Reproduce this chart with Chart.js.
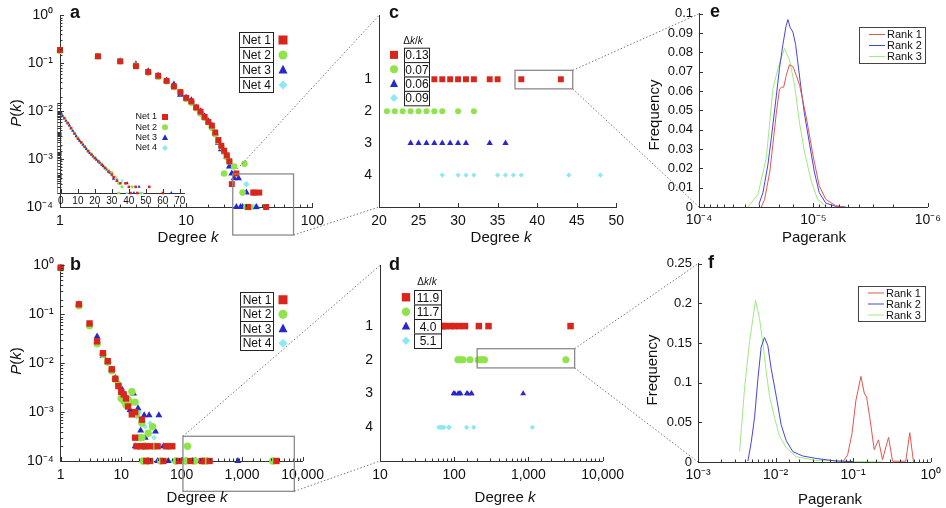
<!DOCTYPE html>
<html>
<head>
<meta charset="utf-8">
<script src="https://cdn.jsdelivr.net/npm/chart.js@4.4.1/dist/chart.umd.min.js"></script>
<style>
  html, body { margin: 0; padding: 0; background: #fff; }
  #page { position: relative; width: 946px; height: 508px; overflow: hidden; background: #fff; }
  #page canvas { position: absolute; }
</style>
</head>
<body>
<div id="page"></div>
<script>
// ---------- data ----------
const netNames = ['Net 1', 'Net 2', 'Net 3', 'Net 4'];
const rankNames = ['Rank 1', 'Rank 2', 'Rank 3'];

// panel a: P(k) for k = 1..22, then the sparse tail
const aDegree = [1,2,3,4,5,6,7,8,9,10,11,12,13,14,15,16,17,18,19,20,21,22];
const aNet1 = [0.19,0.14,0.11,0.087,0.066,0.055,0.043,0.033,0.025,0.019,0.016,0.012,0.0098,0.0076,0.006,0.005,0.0036,0.0025,0.0019,0.0015,0.0012,0.0009];
const aNet2 = [0.18,0.14,0.11,0.09,0.064,0.052,0.042,0.032,0.025,0.018,0.015,0.0115,0.009,0.0072,0.0058,0.0045,0.0033,0.0024,0.0018,0.0014,0.0011,0.0009];
const aNet3 = [0.18,0.135,0.11,0.095,0.068,0.055,0.044,0.036,0.022,0.019,0.017,0.012,0.01,0.0078,0.0062,0.005,0.0034,0.0022,0.0016,0.0014,0.0011,0.0007];
const aNet4 = [0.18,0.14,0.11,0.09,0.067,0.055,0.043,0.034,0.025,0.019,0.016,0.012,0.0097,0.0075,0.006,0.0048,0.0035,0.0024,0.0018,0.0014,0.0011,0.0008];
const aTailK1 = [23,25,34,35,38,31,43];
const aTailP1 = [3e-4,5e-4,2e-4,2e-4,2e-4,1e-4,1e-4];
const aTailK2 = [20,24,29,28,30,31,32];
const aTailP2 = [5e-4,7e-4,8e-4,2e-4,1e-4,1e-4,1e-4];
const aTailK3 = [23,24,26,30,25,27,28,36];
const aTailP3 = [5e-4,4e-4,4e-4,2e-4,1e-4,1e-4,1e-4,1e-4];
const aTailK4 = [24,30,28,34,35,36];
const aTailP4 = [5e-4,3e-4,2e-4,1e-4,1e-4,1e-4];

// panel a inset (linear degree axis)
const insetEven = [0,2,4,6,8,10,12,14,16,18,20,22,24,26,28];
const insetOdd = [1,3,5,7,9,11,13,15,17,19,21,23,25,27,29];
const insetNet1 = [0.79,0.45,0.26,0.15,0.08,0.045,0.03,0.018,0.011,0.0075,0.005,0.0035,0.0024,0.0017,0.0011];
const insetNet2 = [0.75,0.48,0.28,0.14,0.085,0.05,0.028,0.019,0.012,0.008,0.0055,0.0037,0.0027,0.0016,0.0013];
const insetNet3 = [0.6,0.34,0.2,0.11,0.06,0.036,0.023,0.014,0.009,0.006,0.0042,0.003,0.002,0.0014,0.001];
const insetNet4 = [0.62,0.35,0.19,0.115,0.065,0.038,0.024,0.015,0.0095,0.0062,0.0044,0.0029,0.0021,0.0015,0.0009];
const insetTailK1 = [30,31,33,35,38,40,44,52,41,45,60];
const insetTailP1 = [8e-4,6e-4,4e-4,3e-4,3e-4,2e-4,2e-4,2e-4,1e-4,1e-4,1e-4];
const insetTailK2 = [30,32,34,36,42,34,47];
const insetTailP2 = [1e-3,6e-4,3e-4,2e-4,2e-4,1e-4,1e-4];
const insetTailK3 = [31,33,39,46,43,65];
const insetTailP3 = [5e-4,4e-4,3e-4,2e-4,1e-4,1e-4];
const insetTailK4 = [30,33,36,38,44,39,48];
const insetTailP4 = [7e-4,5e-4,4e-4,3e-4,2e-4,1e-4,1e-4];

// panel b
const bDegree = [1,2,3,4,5,6,7,8,9,10,11,12,13];
const bNet1 = [0.9,0.16,0.065,0.028,0.016,0.011,0.0075,0.0048,0.0034,0.0026,0.0023,0.0019,0.0013];
const bNet2 = [0.88,0.15,0.058,0.025,0.015,0.0105,0.007,0.0047,0.0036,0.0019,0.0017,0.0014,0.0018];
const bNet3 = [0.9,0.16,0.062,0.035,0.014,0.0105,0.0074,0.005,0.0038,0.0031,0.0024,0.002,0.0016];
const bNet4 = [0.9,0.16,0.064,0.03,0.016,0.0108,0.0077,0.0052,0.004,0.0031,0.0025,0.0021,0.0013];
const bTailK1 = [15,17,17,22,18,21,25,30,40,55,70,26,30,50,90,140,215,290,3700];
const bTailP1 = [9e-4,1e-3,3e-4,7e-4,2e-4,2e-4,2e-4,2e-4,2e-4,2e-4,2e-4,1e-4,1e-4,1e-4,1e-4,1e-4,1e-4,1e-4,1e-4];
const bTailK2 = [14,15,17,18,22,28,33,20,22,24,35,60,125,23,27,45,80,115,163,225,256,3200];
const bTailP2 = [1.6e-3,2.6e-3,1.6e-3,9e-4,6e-4,3.7e-4,5e-4,3e-4,3e-4,2e-4,2e-4,2e-4,2e-4,1e-4,1e-4,1e-4,1e-4,1e-4,1e-4,1e-4,1e-4,1e-4];
const bTailK3 = [14,16,19,24,29,42,21,37,25,17,25,50,28,40,60,100,120,150,172,850];
const bTailP3 = [1.1e-3,2.4e-3,1.2e-3,8.6e-4,8.6e-4,8.6e-4,4.2e-4,4e-4,3e-4,2e-4,2e-4,2e-4,1e-4,1e-4,1e-4,1e-4,1e-4,1e-4,1e-4,1e-4];
const bTailK4 = [14,15,18,20,25,30,35,22,19,28,45,32,40,62,73,85,147,183];
const bTailP4 = [1e-3,1.5e-3,8e-4,1e-3,5e-4,6e-4,3e-4,3e-4,2e-4,2e-4,2e-4,1e-4,1e-4,1e-4,1e-4,1e-4,1e-4,1e-4];

// panel c: degrees of the top nodes, one row per net
const cNet1 = [27,28,29,30,31,32,34,35,38,43];
const cNet2 = [21,22,23,24,25,26,27,28,30,32];
const cNet3 = [24,25,26,27,28,29,30,31,34,36];
const cNet4 = [28,30,31,32,35,36,37,38,44,48];
const cSpread = ['0.13', '0.07', '0.06', '0.09'];

// panel d
const dNet1 = [68,72,77,90,100,118,140,215,290,3700];
const dNet2 = [112,118,124,132,163,210,225,240,256,3200];
const dNet3 = [98,102,113,118,122,148,152,170,172,850];
const dNet4 = [62,66,69,73,84,86,147,183,1130];
const dSpread = ['11.9', '11.7', '4.0', '5.1'];

// panel e: pagerank histograms
const eRank1X = [2.85e-5,2.67e-5,2.41e-5,2.26e-5,2.11e-5,1.98e-5,1.9e-5,1.82e-5,1.73e-5,1.62e-5,1.51e-5,1.41e-5,1.32e-5,1.16e-5,1.01e-5,8.9e-6,7.8e-6,6.4e-6,5.5e-6];
const eRank1Y = [0,0.004,0.018,0.0325,0.0486,0.061,0.062,0.062,0.068,0.0736,0.0727,0.068,0.063,0.047,0.027,0.011,0.004,0.0007,0];
const eRank2X = [3.0e-5,2.76e-5,2.5e-5,2.33e-5,2.11e-5,1.98e-5,1.85e-5,1.73e-5,1.67e-5,1.6e-5,1.51e-5,1.43e-5,1.37e-5,1.28e-5,1.2e-5,1.08e-5,9.8e-6,8.9e-6,7.8e-6,6.4e-6,5.2e-6];
const eRank2Y = [0.0013,0.0075,0.0218,0.036,0.0575,0.0718,0.084,0.094,0.097,0.093,0.0905,0.084,0.075,0.061,0.0486,0.0325,0.018,0.0075,0.002,0.0004,0];
const eRank3X = [3.73e-5,3.05e-5,2.58e-5,2.26e-5,2.04e-5,1.79e-5,1.62e-5,1.46e-5,1.32e-5,1.2e-5,1.05e-5,9.2e-6,7.8e-6];
const eRank3Y = [0,0.0066,0.0254,0.061,0.0718,0.082,0.0762,0.0629,0.0432,0.029,0.0138,0.0039,0.0004];

// panel f
const fRank1X = [0.0731,0.0849,0.0966,0.1087,0.126,0.139,0.149,0.164,0.187,0.212,0.239,0.286,0.322,0.477,0.537,0.6];
const fRank1Y = [0,0.009,0.0357,0.078,0.108,0.087,0.082,0.056,0.0156,0.028,0.003,0.031,0.001,0.001,0.037,0];
const fRank2X = [4.4e-3,4.85e-3,5.36e-3,5.92e-3,6.52e-3,7.2e-3,7.94e-3,8.77e-3,1.02e-2,1.18e-2,1.37e-2,1.67e-2,2.24e-2,3.32e-2,6.02e-2,0.1];
const fRank2Y = [0.0013,0.0246,0.056,0.105,0.145,0.157,0.147,0.118,0.083,0.047,0.027,0.013,0.0076,0.0045,0.0013,0.0005];
const fRank3X = [3.44e-3,3.98e-3,4.62e-3,5.52e-3,6.21e-3,6.86e-3,7.57e-3,8.35e-3,9.69e-3,1.12e-2,1.37e-2,1.84e-2,3.32e-2,8.07e-2,0.239];
const fRank3Y = [0.0134,0.093,0.152,0.204,0.181,0.15,0.114,0.083,0.056,0.033,0.018,0.0067,0.002,0.001,0];

// zoom windows (data units)
const aZoom = {x: [23.4, 71], y: [2.6e-5, 4.9e-4]};
const bZoom = {x: [105, 7300], y: [2.4e-5, 3.2e-4]};
const cZoom = {x: [37.2, 44.5], y: [0.72, 1.3]};
const dZoom = {x: [204, 4200], y: [1.67, 2.24]};

// ---------- helpers ----------
const FONT = '"Liberation Sans", Arial, Helvetica, sans-serif';
const netColors = ['#d8261d', '#8fe34b', '#2727cf', '#8ce8f2'];
const netShapes = ['rect', 'circle', 'triangle', 'rectRot'];
const rankColors = ['#e2564f', '#4545e0', '#a0ea82'];

const SUP = {'0':'⁰','1':'¹','2':'²','3':'³','4':'⁴','5':'⁵','6':'⁶','7':'⁷','8':'⁸','9':'⁹','-':'⁻'};
function isPow10(v) { const e = Math.log10(v); return Math.abs(e - Math.round(e)) < 1e-6; }
function supLabel(v) {
  if (!isPow10(v)) return '';
  return '10' + String(Math.round(Math.log10(v))).split('').map(c => SUP[c]).join('');
}
function plainLabel(v) { return isPow10(v) ? Math.round(v).toLocaleString('en-US') : ''; }
function decLabel(v) { return v === 0 ? '0' : String(+v.toFixed(2)); }
function pts(xs, ys) { return xs.map((x, i) => ({x: x, y: ys[i]})); }
function row(xs, r) { return xs.map(x => ({x: x, y: r})); }

function axis(o) {
  return {
    type: o.type || 'linear', min: o.min, max: o.max, reverse: !!o.reverse,
    grid: {display: false, drawTicks: false, tickLength: 0},
    border: {display: true, color: o.borderColor || '#333', width: 1},
    ticks: {
      display: o.labels !== false, callback: o.cb, stepSize: o.step, includeBounds: o.bounds !== false,
      autoSkip: false, maxRotation: 0, minRotation: 0, color: '#111',
      padding: o.pad == null ? 6 : o.pad, font: {family: FONT, size: o.size || 14}
    }
  };
}

function netSets(dataList, radii) {
  return dataList.map((d, i) => ({
    label: netNames[i], data: d, pointStyle: netShapes[i],
    backgroundColor: netColors[i], borderColor: netColors[i], borderWidth: 0,
    pointRadius: radii[i], pointHoverRadius: radii[i], clip: false
  }));
}
function rankSets(dataList) {
  return dataList.map((d, i) => ({
    label: rankNames[i], data: d, showLine: true, pointRadius: 0, borderWidth: 1,
    borderColor: rankColors[i], backgroundColor: rankColors[i], tension: 0, fill: false
  }));
}

function rich(ctx, parts, x, y, size, align, bold) {
  const fonts = parts.map(p => (p[1] ? 'italic ' : '') + (bold ? 'bold ' : '') + size + 'px ' + FONT);
  let total = 0;
  const ws = parts.map((p, i) => { ctx.font = fonts[i]; const w = ctx.measureText(p[0]).width; total += w; return w; });
  let cx = align === 'center' ? x - total / 2 : align === 'right' ? x - total : x;
  ctx.fillStyle = '#111'; ctx.textBaseline = 'middle'; ctx.textAlign = 'left';
  parts.forEach((p, i) => { ctx.font = fonts[i]; ctx.fillText(p[0], cx, y); cx += ws[i]; });
}
function richV(ctx, parts, x, y, size) {
  ctx.save(); ctx.translate(x, y); ctx.rotate(-Math.PI / 2);
  rich(ctx, parts, 0, 0, size, 'center'); ctx.restore();
}

function marker(ctx, shape, color, x, y, r) {
  ctx.fillStyle = color; ctx.beginPath();
  if (shape === 'rect') ctx.rect(x - r, y - r, 2 * r, 2 * r);
  else if (shape === 'circle') ctx.arc(x, y, r, 0, Math.PI * 2);
  else if (shape === 'triangle') { ctx.moveTo(x, y - r * 1.15); ctx.lineTo(x + r, y + r * 0.8); ctx.lineTo(x - r, y + r * 0.8); ctx.closePath(); }
  else { ctx.moveTo(x, y - r); ctx.lineTo(x + r, y); ctx.lineTo(x, y + r); ctx.lineTo(x - r, y); ctx.closePath(); }
  ctx.fill();
}

function netLegend(ctx, x0, x1, y0, rowH, size, mx, mr) {
  netNames.forEach((name, i) => {
    const y = y0 + i * rowH;
    ctx.fillStyle = '#fff'; ctx.fillRect(x0, y, x1 - x0, rowH);
    ctx.strokeStyle = '#222'; ctx.lineWidth = 1; ctx.strokeRect(x0 + 0.5, y + 0.5, x1 - x0, rowH);
    rich(ctx, [[name, false]], (x0 + x1) / 2 + 0.5, y + rowH / 2 + 1, size, 'center');
    marker(ctx, netShapes[i], netColors[i], mx, y + rowH / 2 + 0.5, mr);
  });
}

function spreadLegend(ctx, values, hx, hy, mx, bx0, bx1, by0, rowH, mr) {
  rich(ctx, [['Δ', false], ['k', true], ['/', false], ['k', true]], hx, hy, 10, 'center');
  values.forEach((v, i) => {
    const y = by0 + i * rowH;
    ctx.fillStyle = '#fff'; ctx.fillRect(bx0, y, bx1 - bx0, rowH);
    ctx.strokeStyle = '#222'; ctx.lineWidth = 1; ctx.strokeRect(bx0 + 0.5, y + 0.5, bx1 - bx0, rowH);
    rich(ctx, [[v, false]], (bx0 + bx1) / 2 + 0.5, y + rowH / 2 + 1, 12, 'center');
    marker(ctx, netShapes[i], netColors[i], mx, y + rowH / 2, mr);
  });
}

function rankLegend(ctx, x0, y0, x1, y1, rows) {
  ctx.fillStyle = '#fff'; ctx.fillRect(x0, y0, x1 - x0, y1 - y0);
  ctx.strokeStyle = '#444'; ctx.lineWidth = 1; ctx.strokeRect(x0 + 0.5, y0 + 0.5, x1 - x0, y1 - y0);
  rankNames.forEach((n, i) => {
    ctx.strokeStyle = rankColors[i]; ctx.beginPath();
    ctx.moveTo(x0 + 10, rows[i] + 0.5); ctx.lineTo(x0 + 26, rows[i] + 0.5); ctx.stroke();
    rich(ctx, [[n, false]], x0 + 28, rows[i] + 1, 11, 'left');
  });
}

function inwardTicks(chart, ids) {
  const ctx = chart.ctx, a = chart.chartArea;
  ctx.save(); ctx.strokeStyle = '#333'; ctx.lineWidth = 1;
  ids.forEach(id => {
    const s = chart.scales[id];
    s.ticks.forEach(t => {
      const major = t.label !== '' && t.label != null;
      const len = major ? 4 : 2.5;
      const p = Math.round(s.getPixelForValue(t.value)) + 0.5;
      ctx.beginPath();
      if (id === 'x') {
        if (p < a.left - 1 || p > a.right + 1) return;
        ctx.moveTo(p, a.bottom); ctx.lineTo(p, a.bottom - len);
      } else {
        if (p < a.top - 1 || p > a.bottom + 1) return;
        ctx.moveTo(a.left, p); ctx.lineTo(a.left + len, p);
      }
      ctx.stroke();
    });
  });
  ctx.restore();
}

function zoomRect(chart, z) {
  const xs = chart.scales.x, ys = chart.scales.y;
  const x0 = xs.getPixelForValue(z.x[0]), x1 = xs.getPixelForValue(z.x[1]);
  const y0 = ys.getPixelForValue(z.y[0]), y1 = ys.getPixelForValue(z.y[1]);
  return {left: Math.min(x0, x1), right: Math.max(x0, x1), top: Math.min(y0, y1), bottom: Math.max(y0, y1)};
}
function drawZoom(chart, z) {
  const r = zoomRect(chart, z), ctx = chart.ctx;
  ctx.save(); ctx.strokeStyle = '#8a8a8a'; ctx.lineWidth = 1.3;
  ctx.strokeRect(r.left, r.top, r.right - r.left, r.bottom - r.top);
  ctx.restore();
}

// ---------- panels (box/area in page pixels) ----------
const degreeTitle = [['Degree ', false], ['k', true]];
const pkTitle = [['P', true], ['(', false], ['k', true], [')', false]];

const panels = [
  {
    id: 'a', box: [0, 0, 330, 250], area: [60, 22, 316, 207], ticks: ['x', 'y'], zoom: aZoom,
    x: axis({type: 'logarithmic', min: 1, max: 100, cb: plainLabel, pad: 6}),
    y: axis({type: 'logarithmic', min: 1e-4, max: 1, cb: supLabel, pad: 7}),
    datasets: netSets([
      pts(aDegree, aNet1).concat(pts(aTailK1, aTailP1)),
      pts(aDegree, aNet2).concat(pts(aTailK2, aTailP2)),
      pts(aDegree, aNet3).concat(pts(aTailK3, aTailP3)),
      pts(aDegree, aNet4).concat(pts(aTailK4, aTailP4))
    ], [4.2, 3.3, 4, 3.2]),
    draw(ctx) {
      rich(ctx, [['a', false]], 70, 13, 18, 'left', true);
      rich(ctx, degreeTitle, 188, 238, 15, 'center');
      richV(ctx, pkTitle, 17, 113, 15);
      netLegend(ctx, 239, 273, 32, 15, 12, 283, 4.5);
    }
  },
  {
    id: 'inset', box: [40, 95, 160, 125], area: [59.4, 105, 183, 193], ticks: ['x', 'y'],
    x: axis({min: -2, max: 73, step: 10, size: 10, pad: 2, bounds: false, cb: v => (v >= 0 && v % 10 === 0) ? String(v) : ''}),
    y: axis({type: 'logarithmic', min: 1e-4, max: 2.5, labels: false, borderColor: '#999'}),
    datasets: netSets([
      pts(insetEven, insetNet1).concat(pts(insetTailK1, insetTailP1)),
      pts(insetEven, insetNet2).concat(pts(insetTailK2, insetTailP2)),
      pts(insetOdd, insetNet3).concat(pts(insetTailK3, insetTailP3)),
      pts(insetOdd, insetNet4).concat(pts(insetTailK4, insetTailP4))
    ], [1.8, 1.6, 1.9, 1.6]),
    draw(ctx) {
      netNames.forEach((n, i) => {
        const y = 117 + i * 10.3;
        rich(ctx, [[n, false]], 157, y, 9, 'right');
        marker(ctx, netShapes[i], netColors[i], 165, y, 3);
      });
    }
  },
  {
    id: 'b', box: [0, 250, 330, 258], area: [60.7, 279, 314.7, 461], ticks: ['x', 'y'], zoom: bZoom,
    x: axis({type: 'logarithmic', min: 1, max: 10000, cb: plainLabel, pad: 6}),
    y: axis({type: 'logarithmic', min: 1e-4, max: 1, cb: supLabel, pad: 7}),
    datasets: netSets([
      pts(bDegree, bNet1).concat(pts(bTailK1, bTailP1)),
      pts(bDegree, bNet2).concat(pts(bTailK2, bTailP2)),
      pts(bDegree, bNet3).concat(pts(bTailK3, bTailP3)),
      pts(bDegree, bNet4).concat(pts(bTailK4, bTailP4))
    ], [4.5, 3.7, 4, 2.8]),
    draw(ctx) {
      rich(ctx, [['b', false]], 70, 265, 18, 'left', true);
      rich(ctx, degreeTitle, 197, 498, 15, 'center');
      richV(ctx, pkTitle, 17, 361, 15);
      netLegend(ctx, 240, 273, 292, 14.5, 12, 283, 4.5);
    }
  },
  {
    id: 'c', box: [330, 0, 300, 250], area: [379, 22, 623, 207], ticks: ['x'], zoom: cZoom,
    x: axis({min: 20, max: 50, step: 5, pad: 6, cb: v => String(v)}),
    y: axis({min: -1, max: 5, step: 1, reverse: true, pad: 7, cb: v => (v >= 1 && v <= 4) ? String(v) : ''}),
    datasets: netSets([row(cNet1, 1), row(cNet2, 2), row(cNet3, 3), row(cNet4, 4)], [4.2, 3, 3.6, 2.6]),
    draw(ctx) {
      rich(ctx, [['c', false]], 389, 13, 18, 'left', true);
      rich(ctx, degreeTitle, 501, 238, 15, 'center');
      spreadLegend(ctx, cSpread, 413, 41, 394, 404, 429, 47.7, 14.4, 4);
    }
  },
  {
    id: 'd', box: [330, 250, 300, 258], area: [380, 280, 623, 461], ticks: ['x'], zoom: dZoom,
    x: axis({type: 'logarithmic', min: 10, max: 10000, cb: plainLabel, pad: 6}),
    y: axis({min: -0.8, max: 5, step: 1, reverse: true, pad: 7, cb: v => (v >= 1 && v <= 4 && Number.isInteger(v)) ? String(v) : ''}),
    datasets: netSets([row(dNet1, 1), row(dNet2, 2), row(dNet3, 3), row(dNet4, 4)], [4.6, 3.5, 3.4, 2.6]),
    draw(ctx) {
      rich(ctx, [['d', false]], 389, 265, 18, 'left', true);
      rich(ctx, degreeTitle, 505, 498, 15, 'center');
      spreadLegend(ctx, dSpread, 427, 282, 406, 414, 441, 290, 14.5, 4.2);
    }
  },
  {
    id: 'e', box: [630, 0, 316, 250], area: [699, 21, 929, 207], ticks: ['x', 'y'],
    x: axis({type: 'logarithmic', min: 1e-6, max: 1e-4, reverse: true, cb: supLabel, pad: 5}),
    y: axis({min: 0, max: 0.1, step: 0.01, size: 13, pad: 6, cb: decLabel}),
    datasets: rankSets([pts(eRank1X, eRank1Y), pts(eRank2X, eRank2Y), pts(eRank3X, eRank3Y)]),
    draw(ctx) {
      rich(ctx, [['e', false]], 710, 12, 18, 'left', true);
      rich(ctx, [['Pagerank', false]], 814, 238, 15, 'center');
      richV(ctx, [['Frequency', false]], 655, 115, 15);
      rankLegend(ctx, 859, 27, 925, 63, [34, 45, 56]);
    }
  },
  {
    id: 'f', box: [630, 250, 316, 258], area: [698, 275, 932, 462], ticks: ['x', 'y'],
    x: axis({type: 'logarithmic', min: 1e-3, max: 1, cb: supLabel, pad: 5}),
    y: axis({min: 0, max: 0.25, step: 0.05, size: 13, pad: 6, cb: decLabel}),
    datasets: rankSets([pts(fRank1X, fRank1Y), pts(fRank2X, fRank2Y), pts(fRank3X, fRank3Y)]),
    draw(ctx) {
      rich(ctx, [['f', false]], 708, 263, 18, 'left', true);
      rich(ctx, [['Pagerank', false]], 830, 500, 15, 'center');
      richV(ctx, [['Frequency', false]], 653, 370, 15);
      rankLegend(ctx, 858, 286, 925, 321, [292.5, 303.5, 314.5]);
    }
  }
];

// ---------- build ----------
const page = document.getElementById('page');
const charts = {};

panels.forEach(p => {
  const cv = document.createElement('canvas');
  cv.width = p.box[2]; cv.height = p.box[3];
  cv.style.left = p.box[0] + 'px'; cv.style.top = p.box[1] + 'px';
  page.appendChild(cv);
  const decor = {
    id: 'decor_' + p.id,
    afterDraw(chart) {
      inwardTicks(chart, p.ticks);
      if (p.zoom) drawZoom(chart, p.zoom);
      const ctx = chart.ctx;
      ctx.save(); ctx.translate(-p.box[0], -p.box[1]);
      p.draw(ctx);
      ctx.restore();
    }
  };
  const chart = new Chart(cv, {
    type: 'scatter',
    data: {datasets: p.datasets},
    options: {
      responsive: false, animation: false, events: [],
      layout: {padding: {left: 0, top: 0, right: 0, bottom: 0}},
      plugins: {legend: {display: false}, tooltip: {enabled: false}},
      scales: {x: p.x, y: p.y}
    },
    plugins: [decor]
  });
  // shift paddings so the plot area lands on the target rectangle
  const a = chart.chartArea;
  const L = p.area[0] - p.box[0], T = p.area[1] - p.box[1];
  const R = p.area[2] - p.box[0], B = p.area[3] - p.box[1];
  chart.options.layout.padding = {
    left: Math.max(0, L - a.left), top: Math.max(0, T - a.top),
    right: Math.max(0, a.right - R), bottom: Math.max(0, a.bottom - B)
  };
  chart.update();
  charts[p.id] = {chart: chart, p: p};
});

// ---------- dotted zoom connectors ----------
const links = document.createElement('canvas');
links.width = 946; links.height = 508;
links.style.left = '0px'; links.style.top = '0px'; links.style.pointerEvents = 'none';
page.appendChild(links);
(function () {
  const ctx = links.getContext('2d');
  function zr(id) {
    const c = charts[id], r = zoomRect(c.chart, c.p.zoom);
    return {left: r.left + c.p.box[0], right: r.right + c.p.box[0], top: r.top + c.p.box[1], bottom: r.bottom + c.p.box[1]};
  }
  function ar(id) {
    const c = charts[id], a = c.chart.chartArea;
    return {left: a.left + c.p.box[0], top: a.top + c.p.box[1], bottom: a.bottom + c.p.box[1]};
  }
  const segs = [];
  const za = zr('a'), zb = zr('b'), zc = zr('c'), zd = zr('d');
  const ac = ar('c'), ad = ar('d'), ae = ar('e'), af = ar('f');
  segs.push([za.left, za.top, ac.left, ac.top], [za.right, za.bottom, ac.left, ac.bottom]);
  segs.push([zb.left, zb.top, ad.left, ad.top], [zb.right, zb.bottom, ad.left, ad.bottom]);
  segs.push([zc.right, zc.top, ae.left, ae.top], [zc.right, zc.bottom, ae.left, ae.bottom]);
  segs.push([zd.right, zd.top, af.left, af.top], [zd.right, zd.bottom, af.left, af.bottom]);
  ctx.strokeStyle = '#777'; ctx.lineWidth = 1; ctx.setLineDash([1.5, 2]);
  segs.forEach(s => { ctx.beginPath(); ctx.moveTo(s[0], s[1]); ctx.lineTo(s[2], s[3]); ctx.stroke(); });
})();
</script>
</body>
</html>
